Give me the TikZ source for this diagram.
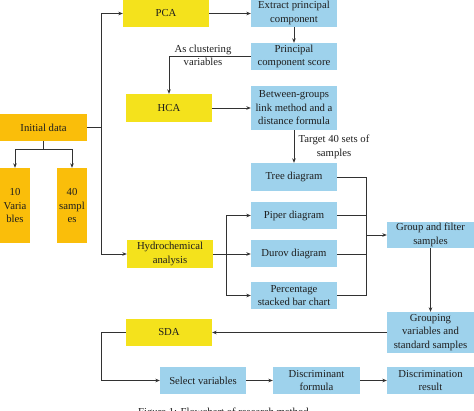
\documentclass[tikz,border=0pt]{standalone}
\usepackage{fontspec}
\setmainfont{Liberation Serif}
\usetikzlibrary{arrows.meta}
\definecolor{orangebox}{RGB}{250,190,10}
\definecolor{yellowbox}{RGB}{244,226,28}
\definecolor{bluebox}{RGB}{158,210,236}
\definecolor{linec}{RGB}{50,50,50}
\definecolor{textc}{RGB}{30,30,30}
\begin{document}
\begin{tikzpicture}[x=1pt,y=-1pt,
  box/.style={rectangle,inner sep=0pt,align=center,text=textc,
    font=\fontsize{10.7}{13.5}\selectfont},
  obox/.style={box,fill=orangebox},
  ybox/.style={box,fill=yellowbox},
  bbox/.style={box,fill=bluebox},
  ln/.style={draw=linec,line width=0.8pt},
  arr/.style={ln,-{Stealth[length=4.5pt,width=3.6pt]}},
  lbl/.style={align=center,inner sep=0pt,text=textc,
    font=\fontsize{10.7}{13.5}\selectfont}]
\useasboundingbox (0,0) rectangle (474,411);
% orange
\node[obox,minimum width=87pt,minimum height=27pt] (init) at (43.5,127.5) {Initial data};
\node[obox,minimum width=30pt,minimum height=75pt] (var) at (15,205.5) {10\\Varia\\bles};
\node[obox,minimum width=30pt,minimum height=75pt] (smp) at (72,205.5) {40\\sampl\\es};
% yellow
\node[ybox,minimum width=86pt,minimum height=27pt] (pca) at (166,13.5) {PCA};
\node[ybox,minimum width=86pt,minimum height=28pt] (hca) at (169,108) {HCA};
\node[ybox,minimum width=86pt,minimum height=28pt] (hyd) at (170,254) {Hydrochemical\\analysis};
\node[ybox,minimum width=86pt,minimum height=27pt] (sda) at (169,332.5) {SDA};
% blue
\node[bbox,minimum width=86pt,minimum height=28pt] (ext) at (294,13) {Extract principal\\component};
\node[bbox,minimum width=86pt,minimum height=27pt] (pcs) at (294,56.5) {Principal\\component score};
\node[bbox,minimum width=86pt,minimum height=44pt] (bgl) at (294,108) {Between-groups\\link method and a\\distance formula};
\node[bbox,minimum width=86pt,minimum height=28pt] (tree) at (294,177) {Tree diagram};
\node[bbox,minimum width=86pt,minimum height=27pt] (pip) at (294,215.5) {Piper diagram};
\node[bbox,minimum width=86pt,minimum height=27pt] (dur) at (294,254) {Durov diagram};
\node[bbox,minimum width=86pt,minimum height=27pt] (pct) at (294,295.5) {Percentage\\stacked bar chart};
\node[bbox,minimum width=87pt,minimum height=26pt] (gf) at (430.5,235) {Group and filter\\samples};
\node[bbox,minimum width=87pt,minimum height=41pt] (gv) at (430.5,332.5) {Grouping\\variables and\\standard samples};
\node[bbox,minimum width=86pt,minimum height=27pt] (sel) at (203,380.5) {Select variables};
\node[bbox,minimum width=87pt,minimum height=27pt] (df) at (316.5,380.5) {Discriminant\\formula};
\node[bbox,minimum width=87pt,minimum height=27pt] (dr) at (430.5,380.5) {Discrimination\\result};
% connectors
\coordinate (t) at (101.5,127.5);
\draw[ln] (init.east) -- (t);
\draw[arr] (t) |- (pca.west);
\draw[arr] (t) |- (hyd.west);
\coordinate (f) at (43.5,149);
\draw[ln] (init.south) -- (f);
\draw[arr] (f) -| (var.north);
\draw[arr] (f) -| (smp.north);
\draw[arr] (pca.east) -- (pca.east -| ext.west);
\draw[arr] (ext.south) -- (pcs.north);
\draw[arr] (pcs.west) -| (hca.north);
\node[lbl] (l1) at (203,55.5) {As clustering\\variables};
\draw[arr] (hca.east) -- (bgl.west);
\draw[arr] (bgl.south) -- (tree.north);
\node[lbl] (l2) at (334,147) {Target 40 sets of\\samples};
\coordinate (h) at (226,254);
\draw[ln] (hyd.east) -- (h);
\draw[arr] (h) |- (pip.west);
\draw[arr] (h) -- (dur.west);
\draw[arr] (h) |- (pct.west);
\coordinate (m) at (366,235);
\draw[ln] (tree.east) -| (m);
\draw[ln] (pct.east) -| (m);
\draw[ln] (pip.east) -- (pip.east -| m);
\draw[ln] (dur.east) -- (dur.east -| m);
\draw[arr] (m) -- (gf.west);
\draw[arr] (gf.south) -- (gv.north);
\draw[arr] (gv.west) -- (sda.east);
\coordinate (s) at (101.5,332.5);
\draw[ln] (sda.west) -- (s);
\draw[arr] (s) |- (sel.west);
\draw[arr] (sel.east) -- (df.west);
\draw[arr] (df.east) -- (dr.west);
% caption (cut off by the frame, as in the reference)
\node[lbl,anchor=north west] (cap) at (138,408) {\textsc{Figure} 1: Flowchart of research method.};
\end{tikzpicture}
\end{document}
